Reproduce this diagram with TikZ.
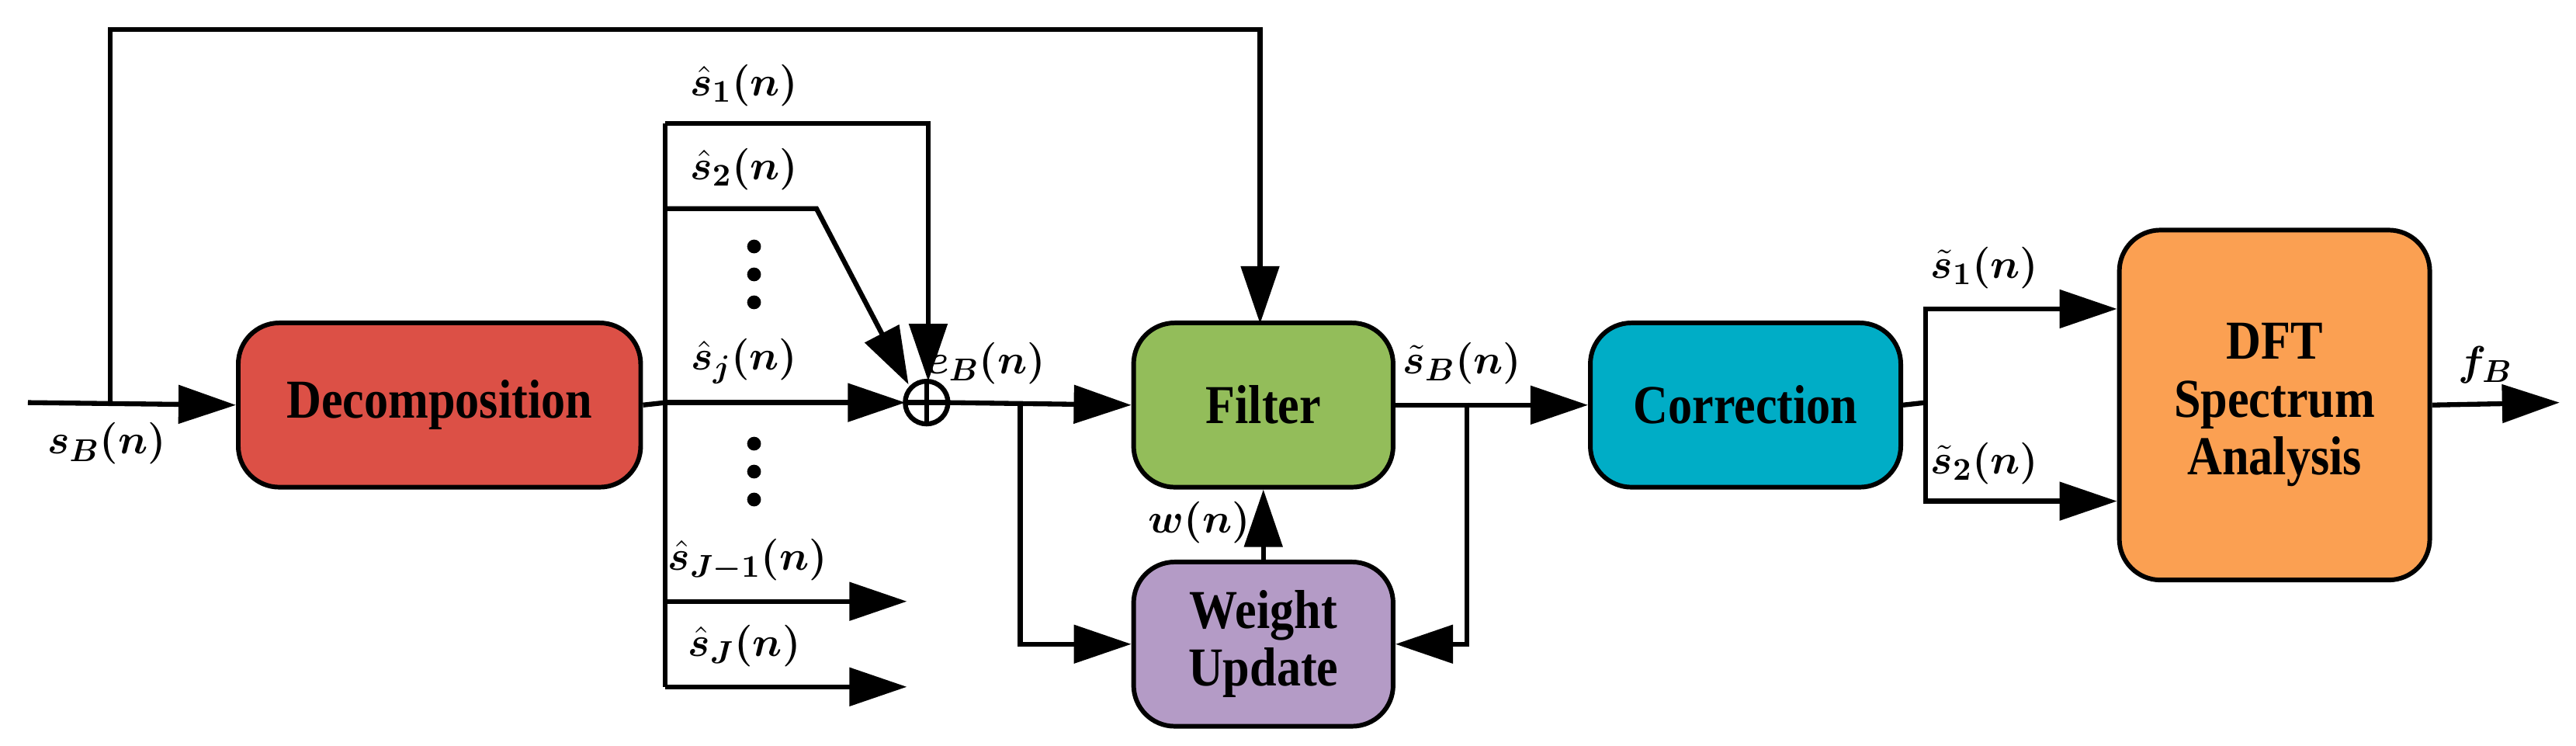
\documentclass[tikz,border=0pt]{standalone}
\usepackage{amsmath,bm}
\usepackage{fontspec}
\setmainfont{Liberation Serif}[FakeStretch=0.88]
\usetikzlibrary{arrows.meta}
\definecolor{cdec}{HTML}{DC5046}
\definecolor{cfil}{HTML}{93BD5A}
\definecolor{cwu}{HTML}{B49BC6}
\definecolor{ccor}{HTML}{00ADC6}
\definecolor{cdft}{HTML}{FBA052}
\begin{document}
\begin{tikzpicture}[x=0.02cm,y=-0.02cm,
  blk/.style={draw,line width=1.6pt,rounded corners=0.5cm,font=\fontsize{19}{22}\selectfont\bfseries,align=center,inner sep=0pt},
  ln/.style={line width=1.7pt},
  ar/.style={ln,-{Triangle[length=0.7cm,width=0.46cm]}},
  lab/.style={font=\fontsize{15}{18}\selectfont,inner sep=1pt}]
\useasboundingbox (0,0) rectangle (1568,454);
\node[blk,fill=cdec,minimum width=4.9cm,minimum height=2cm] (dec) at (267.5,246.5) {Decomposition};
\node[blk,fill=cfil,minimum width=3.16cm,minimum height=2cm] (fil) at (769,246.5) {Filter};
\node[blk,fill=cwu,minimum width=3.16cm,minimum height=2cm] (wu) at (769,392) {Weight\\[-2pt]Update};
\node[blk,fill=ccor,minimum width=3.78cm,minimum height=2cm] (cor) at (1062.5,246.5) {Correction};
\node[blk,fill=cdft,minimum width=3.78cm,minimum height=4.26cm] (dft) at (1384.5,246.5) {DFT\\[-2pt]Spectrum\\[-2pt]Analysis};
\draw[ln] (564,245) circle (13);
\node[minimum size=26\pgflinewidth,inner sep=0pt] (sum) at (564,245) {};
\draw[ln] (551,245) -- (577,245) (564,232) -- (564,258);
\coordinate (in) at (17,245);
\coordinate (fb) at (67,245);
\draw[ar] (in) -- (dec.west);
\draw[ar] (fb) -- (67,18) -- (767,18) -- (767,197);
% decomposition outputs
\coordinate (sp) at (405,245);
\draw[ln] (dec.east) -- (sp);
\draw[ln] (405,75) -- (405,418);
\draw[ar] (sp) -- (551,245);
\draw[ar] (405,75) -- (565,75) -- (565,232);
\draw[ar] (405,127) -- (497,127) -- (553,234);
\draw[ar] (405,366) -- (552,366);
\draw[ar] (405,418) -- (552,418);
\foreach \y in {150,167,184,270,287,304} \fill (459,\y) circle (4.2);
\node[lab] (l1) at (453,52) {$\bm{\hat{s}_1(n)}$};
\node[lab] (l2) at (453,103) {$\bm{\hat{s}_2(n)}$};
\node[lab] (lj) at (453,220) {$\bm{\hat{s}_j(n)}$};
\node[lab] (lJ1) at (455,341) {$\bm{\hat{s}_{J-1}(n)}$};
\node[lab] (lJ) at (453,393) {$\bm{\hat{s}_J(n)}$};
\node[lab] (lsb) at (65,270) {$\bm{s_B(n)}$};
\node[lab] (leb) at (600,221) {$\bm{e_B(n)}$};
% filter
\coordinate (eb) at (621,245);
\draw[ar] (577,245) -- (fil.west);
\draw[ar] (eb) -- (621,392) -- (wu.west);
\draw[ar] (wu.north) -- (fil.south);
\node[lab] (lw) at (730,318) {$\bm{w(n)}$};
\coordinate (sb) at (893,245);
\draw[ar] (fil.east) -- (cor.west);
\draw[ar] (sb) -- (893,392) -- (wu.east);
\node[lab] (lsbt) at (890,221) {$\bm{\tilde{s}_B(n)}$};
% correction
\coordinate (c2) at (1172,245);
\draw[ln] (cor.east) -- (c2);
\draw[ar] (1172,245) -- (1172,188) -- (dft.west |- 0,188);
\draw[ar] (1172,245) -- (1172,305) -- (dft.west |- 0,305);
\node[lab] (ls1) at (1208,163) {$\bm{\tilde{s}_1(n)}$};
\node[lab] (ls2) at (1208,282) {$\bm{\tilde{s}_2(n)}$};
\coordinate (out) at (1558,245);
\draw[ar] (dft.east) -- (out);
\node[lab] (lf) at (1513,222) {$\bm{f_B}$};
\end{tikzpicture}
\end{document}
